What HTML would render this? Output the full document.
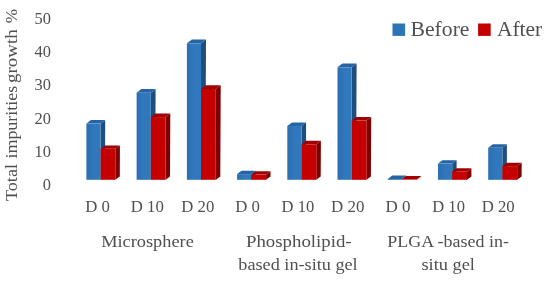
<!DOCTYPE html>
<html><head><meta charset="utf-8"><title>Chart</title>
<style>
html,body{margin:0;padding:0;background:#fff;}
svg{display:block;font-family:"Liberation Serif",serif;fill:#404040;}
</style></head><body>
<svg width="550" height="282" viewBox="0 0 550 282">
<defs><linearGradient id="gb" x1="0" y1="0" x2="1" y2="0"><stop offset="0" stop-color="#2b6fb3"/><stop offset="0.5" stop-color="#3277bb"/><stop offset="1" stop-color="#2e79bd"/></linearGradient></defs>
<rect width="550" height="282" fill="#ffffff"/>
<polygon points="100.6,123.6 105.2,120.1 105.0,176.5 100.6,179.8" fill="#1e4d7f"/>
<polygon points="86.4,123.6 91.0,120.1 105.2,120.1 100.6,123.6" fill="#2565a6"/>
<rect x="86.4" y="123.6" width="14.2" height="56.2" fill="url(#gb)"/>
<polygon points="115.4,148.8 119.9,145.4 119.8,176.5 115.4,179.8" fill="#7e0000"/>
<polygon points="100.6,148.8 105.1,145.4 119.9,145.4 115.4,148.8" fill="#a00000"/>
<rect x="100.6" y="148.8" width="14.8" height="31.0" fill="#c40000"/>
<polygon points="150.8,92.7 155.6,89.0 155.2,176.5 150.8,179.8" fill="#1e4d7f"/>
<polygon points="136.6,92.7 141.4,89.0 155.6,89.0 150.8,92.7" fill="#2565a6"/>
<rect x="136.6" y="92.7" width="14.2" height="87.1" fill="url(#gb)"/>
<polygon points="165.6,117.1 170.3,113.5 170.0,176.5 165.6,179.8" fill="#7e0000"/>
<polygon points="150.8,117.1 155.5,113.5 170.3,113.5 165.6,117.1" fill="#a00000"/>
<rect x="150.8" y="117.1" width="14.8" height="62.7" fill="#c40000"/>
<polygon points="201.0,43.3 206.0,39.4 205.4,176.5 201.0,179.8" fill="#1e4d7f"/>
<polygon points="186.9,43.3 191.9,39.4 206.0,39.4 201.0,43.3" fill="#2565a6"/>
<rect x="186.9" y="43.3" width="14.2" height="136.5" fill="url(#gb)"/>
<polygon points="215.9,89.0 220.7,85.3 220.3,176.5 215.9,179.8" fill="#7e0000"/>
<polygon points="201.0,89.0 205.8,85.3 220.7,85.3 215.9,89.0" fill="#a00000"/>
<rect x="201.0" y="89.0" width="14.8" height="90.8" fill="#c40000"/>
<polygon points="251.2,174.1 255.7,170.8 255.6,176.5 251.2,179.8" fill="#1e4d7f"/>
<polygon points="237.1,174.1 241.5,170.8 255.7,170.8 251.2,174.1" fill="#2565a6"/>
<rect x="237.1" y="174.1" width="14.2" height="5.7" fill="url(#gb)"/>
<polygon points="266.1,174.6 270.5,171.3 270.5,176.5 266.1,179.8" fill="#7e0000"/>
<polygon points="251.2,174.6 255.7,171.3 270.5,171.3 266.1,174.6" fill="#a00000"/>
<rect x="251.2" y="174.6" width="14.9" height="5.2" fill="#c40000"/>
<polygon points="301.5,125.9 306.1,122.4 305.9,176.5 301.5,179.8" fill="#1e4d7f"/>
<polygon points="287.3,125.9 292.0,122.4 306.1,122.4 301.5,125.9" fill="#2565a6"/>
<rect x="287.3" y="125.9" width="14.1" height="53.9" fill="url(#gb)"/>
<polygon points="316.3,144.3 320.9,140.8 320.7,176.5 316.3,179.8" fill="#7e0000"/>
<polygon points="301.5,144.3 306.0,140.8 320.9,140.8 316.3,144.3" fill="#a00000"/>
<rect x="301.5" y="144.3" width="14.9" height="35.5" fill="#c40000"/>
<polygon points="351.7,67.3 356.6,63.5 356.1,176.5 351.7,179.8" fill="#1e4d7f"/>
<polygon points="337.5,67.3 342.4,63.5 356.6,63.5 351.7,67.3" fill="#2565a6"/>
<rect x="337.5" y="67.3" width="14.1" height="112.5" fill="url(#gb)"/>
<polygon points="366.5,120.6 371.2,117.0 370.9,176.5 366.5,179.8" fill="#7e0000"/>
<polygon points="351.7,120.6 356.4,117.0 371.2,117.0 366.5,120.6" fill="#a00000"/>
<rect x="351.7" y="120.6" width="14.9" height="59.2" fill="#c40000"/>
<polygon points="401.9,178.9 406.3,175.6 406.3,176.5 401.9,179.8" fill="#1e4d7f"/>
<polygon points="387.8,178.9 392.2,175.6 406.3,175.6 401.9,178.9" fill="#2565a6"/>
<rect x="387.8" y="178.9" width="14.1" height="0.9" fill="url(#gb)"/>
<polygon points="416.8,179.3 421.2,176.0 421.2,176.5 416.8,179.8" fill="#7e0000"/>
<polygon points="401.9,179.3 406.3,176.0 421.2,176.0 416.8,179.3" fill="#a00000"/>
<rect x="401.9" y="179.3" width="14.9" height="0.5" fill="#c40000"/>
<polygon points="452.2,163.6 456.6,160.2 456.6,176.5 452.2,179.8" fill="#1e4d7f"/>
<polygon points="438.0,163.6 442.5,160.2 456.6,160.2 452.2,163.6" fill="#2565a6"/>
<rect x="438.0" y="163.6" width="14.1" height="16.2" fill="url(#gb)"/>
<polygon points="467.0,171.5 471.4,168.2 471.4,176.5 467.0,179.8" fill="#7e0000"/>
<polygon points="452.2,171.5 456.6,168.2 471.4,168.2 467.0,171.5" fill="#a00000"/>
<rect x="452.2" y="171.5" width="14.9" height="8.3" fill="#c40000"/>
<polygon points="502.4,147.7 506.9,144.3 506.8,176.5 502.4,179.8" fill="#1e4d7f"/>
<polygon points="488.2,147.7 492.8,144.3 506.9,144.3 502.4,147.7" fill="#2565a6"/>
<rect x="488.2" y="147.7" width="14.1" height="32.1" fill="url(#gb)"/>
<polygon points="517.2,166.1 521.7,162.7 521.6,176.5 517.2,179.8" fill="#7e0000"/>
<polygon points="502.4,166.1 506.9,162.7 521.7,162.7 517.2,166.1" fill="#a00000"/>
<rect x="502.4" y="166.1" width="14.9" height="13.7" fill="#c40000"/>
<g fill="#505050">
<text x="51.0" y="189.8" font-size="16.7" text-anchor="end" textLength="8.2" lengthAdjust="spacingAndGlyphs">0</text>
<text x="51.0" y="156.6" font-size="16.7" text-anchor="end" textLength="16.4" lengthAdjust="spacingAndGlyphs">10</text>
<text x="51.0" y="123.5" font-size="16.7" text-anchor="end" textLength="16.4" lengthAdjust="spacingAndGlyphs">20</text>
<text x="51.0" y="90.2" font-size="16.7" text-anchor="end" textLength="16.4" lengthAdjust="spacingAndGlyphs">30</text>
<text x="51.0" y="57.0" font-size="16.7" text-anchor="end" textLength="16.4" lengthAdjust="spacingAndGlyphs">40</text>
<text x="51.0" y="23.9" font-size="16.7" text-anchor="end" textLength="16.4" lengthAdjust="spacingAndGlyphs">50</text>
<text x="97.5" y="212.2" font-size="16.7" text-anchor="middle" textLength="24.7" lengthAdjust="spacingAndGlyphs">D 0</text>
<text x="147.3" y="212.2" font-size="16.7" text-anchor="middle" textLength="33.1" lengthAdjust="spacingAndGlyphs">D 10</text>
<text x="197.8" y="212.2" font-size="16.7" text-anchor="middle" textLength="33.0" lengthAdjust="spacingAndGlyphs">D 20</text>
<text x="247.6" y="212.2" font-size="16.7" text-anchor="middle" textLength="24.7" lengthAdjust="spacingAndGlyphs">D 0</text>
<text x="297.9" y="212.2" font-size="16.7" text-anchor="middle" textLength="32.7" lengthAdjust="spacingAndGlyphs">D 10</text>
<text x="347.7" y="212.2" font-size="16.7" text-anchor="middle" textLength="33.4" lengthAdjust="spacingAndGlyphs">D 20</text>
<text x="398.1" y="212.2" font-size="16.7" text-anchor="middle" textLength="25.0" lengthAdjust="spacingAndGlyphs">D 0</text>
<text x="448.6" y="212.2" font-size="16.7" text-anchor="middle" textLength="32.7" lengthAdjust="spacingAndGlyphs">D 10</text>
<text x="498.2" y="212.2" font-size="16.7" text-anchor="middle" textLength="33.1" lengthAdjust="spacingAndGlyphs">D 20</text>
<text x="147.5" y="247.1" font-size="16.7" text-anchor="middle" textLength="92.6" lengthAdjust="spacingAndGlyphs">Microsphere</text>
<text x="298.8" y="247.1" font-size="16.7" text-anchor="middle" textLength="105.7" lengthAdjust="spacingAndGlyphs">Phospholipid-</text>
<text x="298.0" y="269.7" font-size="16.7" text-anchor="middle" textLength="119.3" lengthAdjust="spacingAndGlyphs">based in-situ gel</text>
<text x="448.1" y="247.1" font-size="16.7" text-anchor="middle" textLength="121.8" lengthAdjust="spacingAndGlyphs">PLGA -based in-</text>
<text x="448.2" y="269.7" font-size="16.7" text-anchor="middle" textLength="53.5" lengthAdjust="spacingAndGlyphs">situ gel</text>
<rect x="392.5" y="23.5" width="12.6" height="12.4" fill="#2e75b8"/>
<text x="410.5" y="35.9" font-size="21.6" text-anchor="start" textLength="59.0" lengthAdjust="spacingAndGlyphs">Before</text>
<rect x="478.1" y="23.5" width="12.6" height="12.4" fill="#c40000"/>
<text x="496.9" y="35.9" font-size="21.6" text-anchor="start" textLength="45.4" lengthAdjust="spacingAndGlyphs">After</text>
<text transform="translate(17,0) rotate(-90)" y="0" font-size="16.7" text-anchor="start"><tspan x="-201.0" textLength="37.0" lengthAdjust="spacingAndGlyphs">Total</tspan> <tspan x="-158.6" textLength="72.9" lengthAdjust="spacingAndGlyphs">impurities</tspan> <tspan x="-83.0" textLength="53.6" lengthAdjust="spacingAndGlyphs">growth</tspan> <tspan x="-23.2" textLength="14.3" lengthAdjust="spacingAndGlyphs">%</tspan></text>
</g>
</svg>
</body></html>
